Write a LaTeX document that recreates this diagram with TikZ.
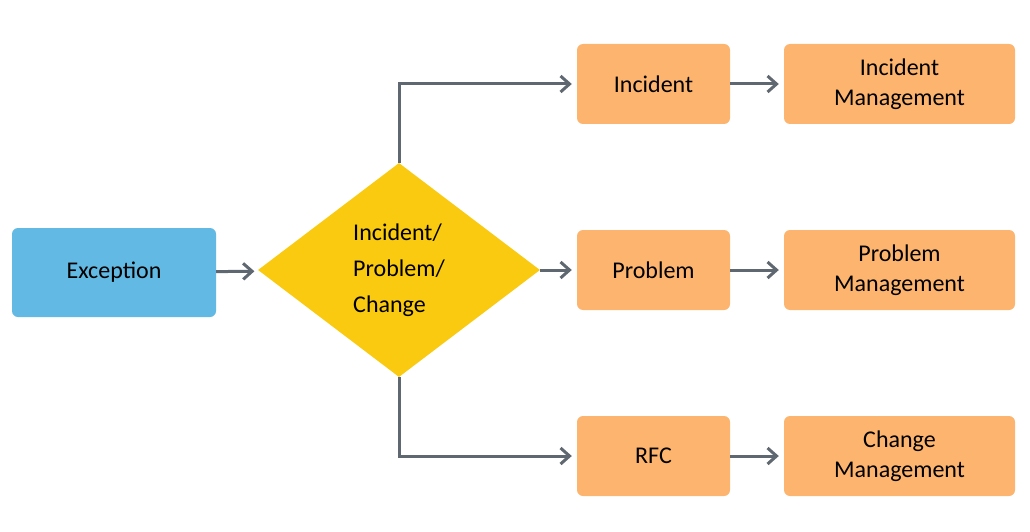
\documentclass[tikz,border=0pt]{standalone}
\usepackage{fontspec}
\setmainfont{Carlito}
\usetikzlibrary{shapes.geometric,arrows.meta}
\definecolor{exblue}{HTML}{62B9E3}
\definecolor{decyel}{HTML}{F9CA10}
\definecolor{boxora}{HTML}{FDB46E}
\definecolor{arrgry}{HTML}{5F6870}
\tikzset{
  box/.style={rectangle, rounded corners=6pt, fill=boxora, minimum width=153pt, minimum height=80pt, align=center, inner sep=0pt},
  mgmt/.style={box, minimum width=231pt},
  flow/.style={-{Straight Barb[length=9pt,width=16pt,line width=3pt]}, draw=arrgry, line width=3pt, shorten >=5pt}
}
\begin{document}
\begin{tikzpicture}[x=1pt,y=-1pt,font=\fontsize{24}{36}\selectfont]
\useasboundingbox (0,0) rectangle (1030,532);
% Nodes
\node [rectangle, rounded corners=6pt, fill=exblue, minimum width=204pt, minimum height=89pt] (exc) at (114,272.5) {Exception};
\node [diamond, fill=decyel, minimum width=282pt, minimum height=214pt, aspect=1.32, inner sep=0pt, align=left] (dec) at (399,270) {Incident/\\Problem/\\Change};
\node [box] (inc) at (653.5,84) {Incident};
\node [box] (prb) at (653.5,270) {Problem};
\node [box] (rfc) at (653.5,456) {RFC};
\node [mgmt] (incm) at (899.5,84) {Incident\\[-6pt]Management};
\node [mgmt] (prbm) at (899.5,270) {Problem\\[-6pt]Management};
\node [mgmt] (chgm) at (899.5,456) {Change\\[-6pt]Management};
% Arrows
\draw [flow] (exc) -- (dec);
\draw [flow] (dec.north) |- (inc);
\draw [flow] (dec) -- (prb);
\draw [flow] (dec.south) |- (rfc);
\draw [flow] (inc) -- (incm);
\draw [flow] (prb) -- (prbm);
\draw [flow] (rfc) -- (chgm);
\end{tikzpicture}
\end{document}
